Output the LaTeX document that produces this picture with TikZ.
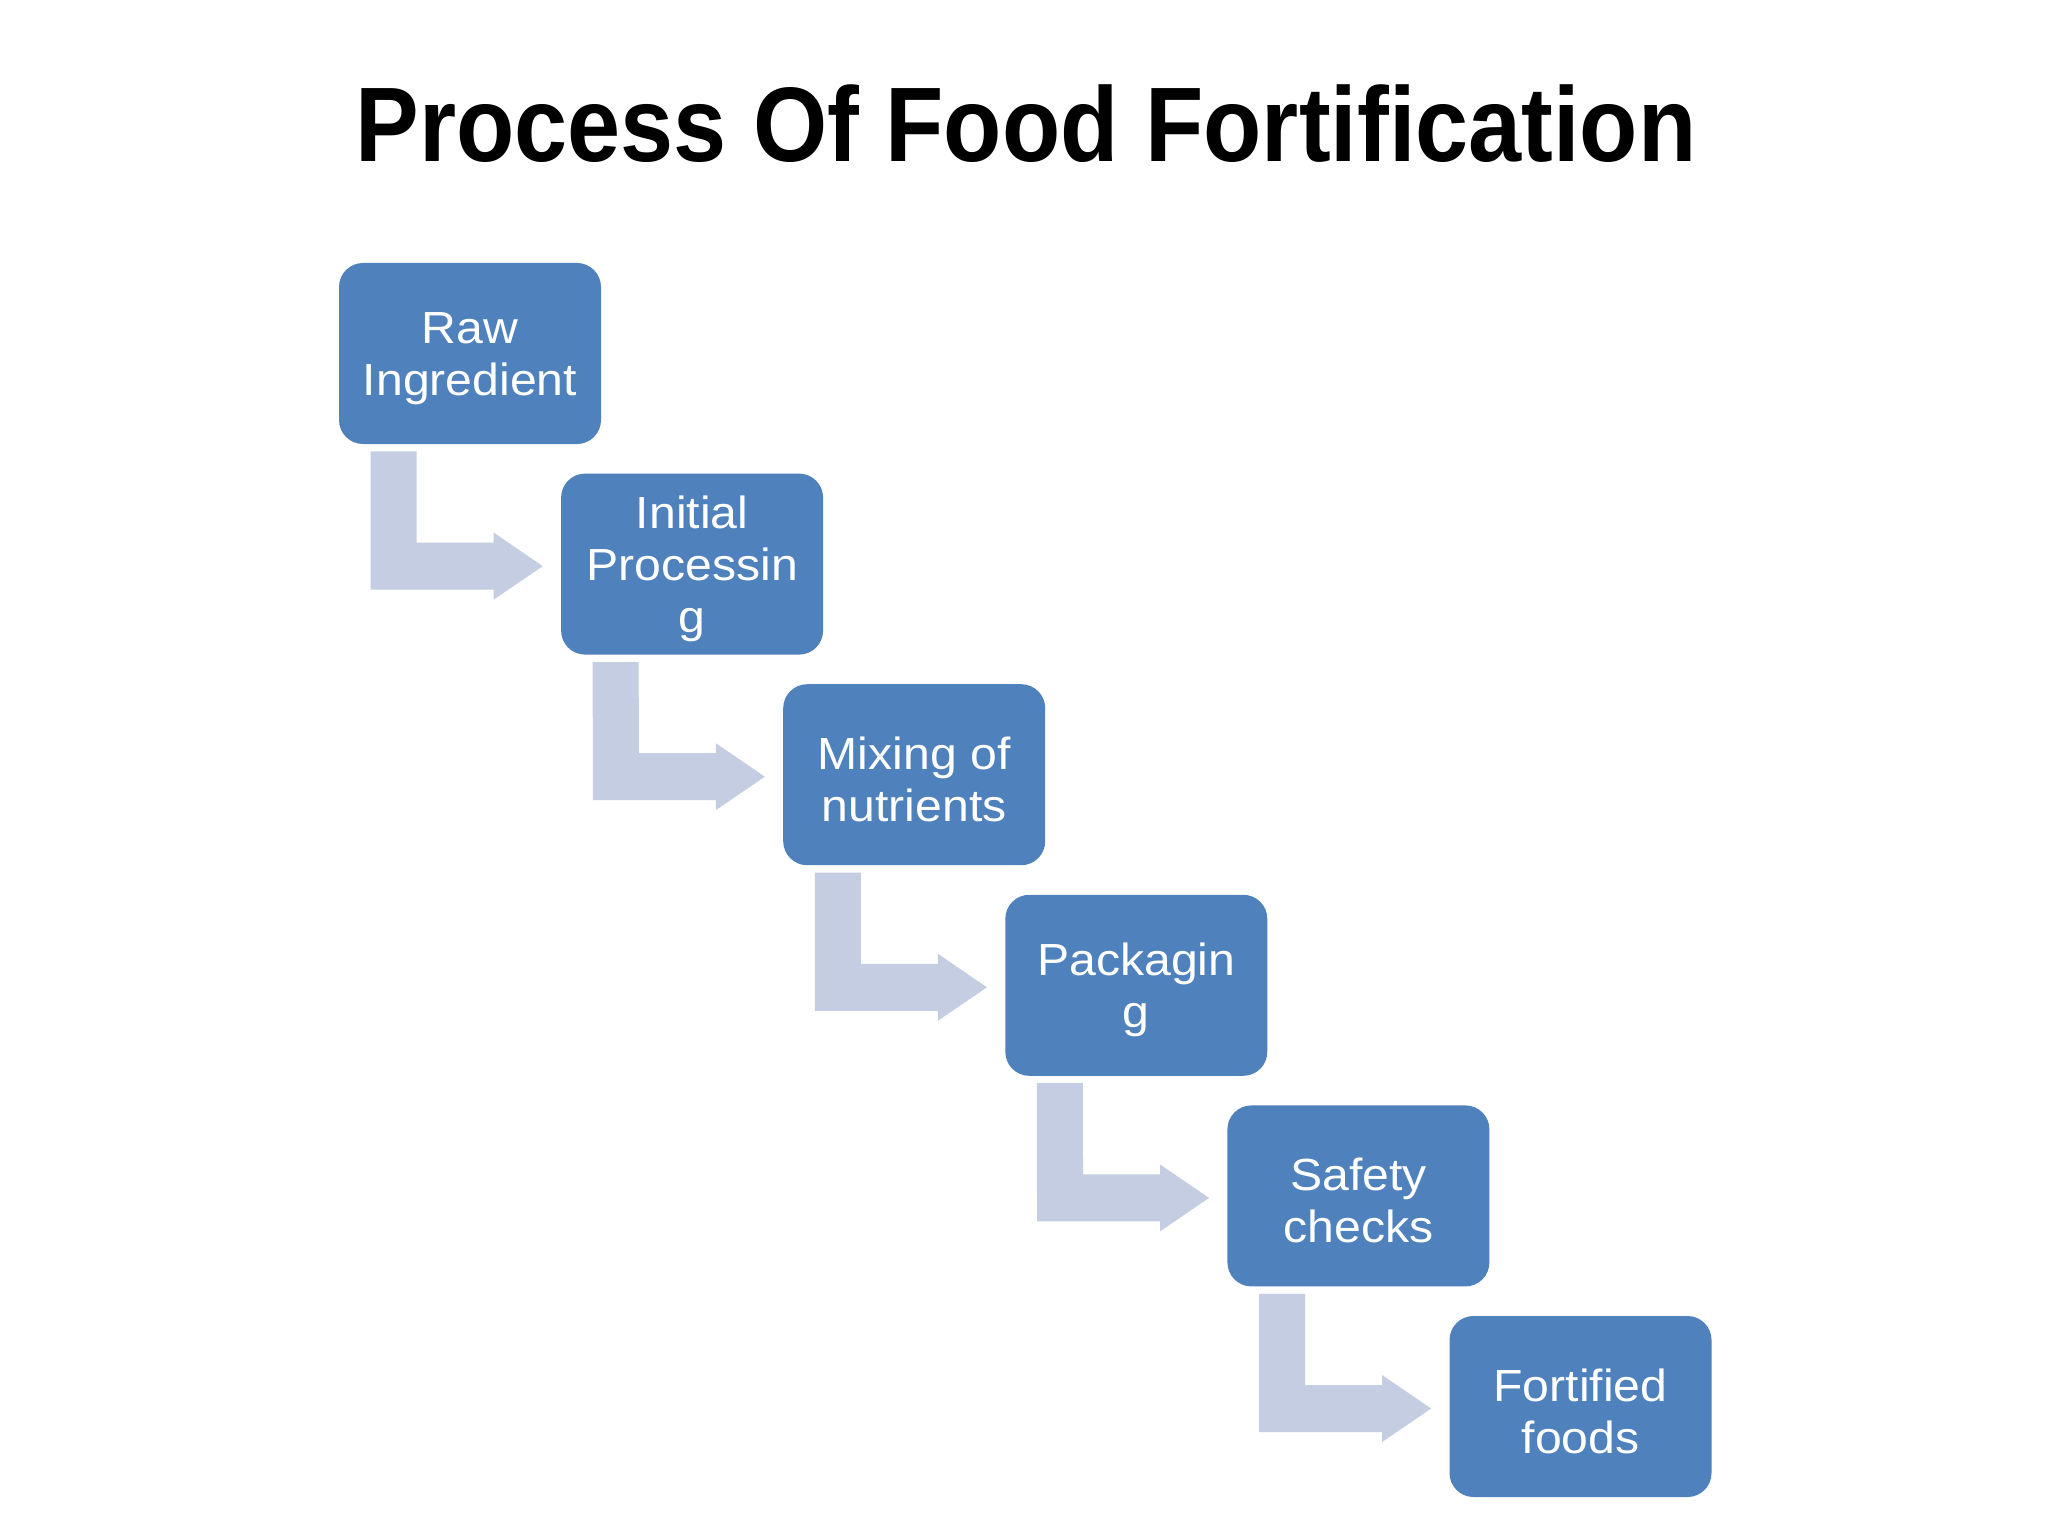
\documentclass[tikz,border=0pt]{standalone}
\usepackage{fontspec}
\usetikzlibrary{calc}
\newfontfamily\boxfont[FakeStretch=1.07]{Liberation Sans}
\newfontfamily\titlefont[FakeStretch=0.9]{Liberation Sans Bold}
\definecolor{boxblue}{HTML}{4F81BD}
\definecolor{arrowgrey}{HTML}{C4CDE1}
\tikzset{
  stepbox/.style={rectangle, rounded corners=12pt, fill=boxblue, draw=none,
    minimum width=131pt, minimum height=90.5pt, inner sep=0pt,
    label={[boxtext]center:#1}},
  boxtext/.style={align=center, text=white, inner sep=0pt, yshift=-2.5pt,
    font=\boxfont\fontsize{22.5}{26}\selectfont},
  bentarrow/.style={fill=arrowgrey, draw=none}
}
\newcommand{\bentarrow}[2]{%
  \coordinate (t#2) at ($(#2.west)+(-18,2)$);
  \fill[bentarrow] ($(#1.south west)+(32,7)$) -- ($(#1.south west)+(78,7)$)
    -- ($(t#2)+(-126,-23.5)$) -- ($(t#2)+(-49,-23.5)$) -- ($(t#2)+(-49,-33.5)$)
    -- (t#2) -- ($(t#2)+(-49,33.5)$) -- ($(t#2)+(-49,23.5)$)
    -- ($(t#2)+(-172,23.5)$) -- cycle;
}
\begin{document}
\begin{tikzpicture}[x=0.5pt, y=-0.5pt]
\useasboundingbox[fill=white] (0,0) rectangle (2048,1535);
\node[anchor=base, font=\titlefont\fontsize{53}{60}\selectfont] (title) at (1026,162) {Process Of Food Fortification};
\node[stepbox={Raw\\Ingredient}] (b1) at (470,353.5) {};
\node[stepbox={Initial\\Processin\\g}] (b2) at (692.1,564.1) {};
\node[stepbox={Mixing of\\nutrients}] (b3) at (914.2,774.7) {};
\node[stepbox={Packagin\\g}] (b4) at (1136.3,985.3) {};
\node[stepbox={Safety\\checks}] (b5) at (1358.4,1195.9) {};
\node[stepbox={Fortified\\foods}] (b6) at (1580.5,1406.5) {};
\bentarrow{b1}{b2}
\bentarrow{b2}{b3}
\bentarrow{b3}{b4}
\bentarrow{b4}{b5}
\bentarrow{b5}{b6}
\end{tikzpicture}
\end{document}
